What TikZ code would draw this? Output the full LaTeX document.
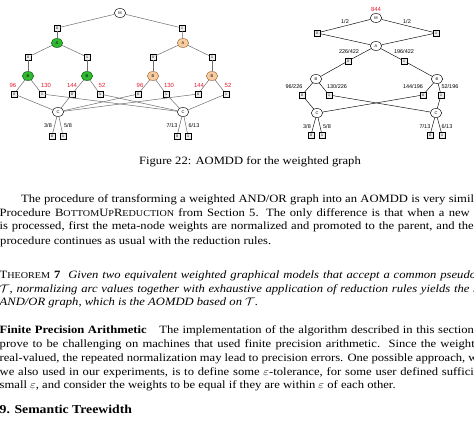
\documentclass[tikz,border=0pt]{standalone}
\usepackage{fontspec}
\setmainfont{Liberation Serif}
\newfontfamily\diagfont{Liberation Sans}
\usetikzlibrary{shapes.geometric}
\definecolor{ngreen}{RGB}{50,185,50}
\definecolor{norange}{RGB}{248,204,160}
\definecolor{lred}{RGB}{230,30,50}
\definecolor{egray}{RGB}{110,110,110}
\newcommand{\fsc}[1]{{\fontsize{9}{9}\selectfont #1}}
\newcommand{\jline}[2]{\scalebox{1.13}[1]{\hbox to #1bp{#2}}}
\newcommand{\nline}[1]{\scalebox{1.13}[1]{#1}}
\begin{document}
\begin{tikzpicture}[x=1bp,y=-1bp,
  onode/.style={ellipse, draw=black, line width=0.45bp, fill=white, minimum width=11.5bp, minimum height=9bp, inner sep=0pt, font=\diagfont\fontsize{4}{4}\selectfont},
  gnode/.style={onode, fill=ngreen, draw=green!35!black},
  pnode/.style={onode, fill=norange, draw=brown!80!black},
  abox/.style={rectangle, draw=black, line width=0.35bp, fill=gray!15, minimum width=5.5bp, minimum height=6bp, inner sep=0pt, font=\diagfont\fontsize{3.5}{3.5}\selectfont},
  ledge/.style={draw=egray, line width=0.5bp},
  redge/.style={draw=black, line width=0.45bp},
  wlab/.style={font=\diagfont\fontsize{6}{6}\selectfont, text=lred, inner sep=0pt},
  blab/.style={font=\diagfont\fontsize{5.5}{6}\selectfont, inner sep=0pt},
  txt/.style={anchor=base west, inner sep=0pt, font=\fontsize{11.2}{14}\selectfont}]
\useasboundingbox (0,0) rectangle (474,441);
\clip (0,0) rectangle (474,441);
\fill[white] (0,0) rectangle (474,441);
% ---------- left diagram ----------
\node[onode] (LM) at (120,13) {M};
\node[abox] (L0) at (57,28) {0};
\node[abox] (L1) at (182,28) {1};
\node[gnode] (LAg) at (57,43) {A};
\node[pnode] (LAo) at (183,43) {A};
\node[abox] (Lg0) at (28,57) {0};
\node[abox] (Lg1) at (87,57) {1};
\node[abox] (Lo0) at (153,57) {0};
\node[abox] (Lo1) at (212,57) {1};
\node[gnode] (LBg0) at (28,76) {B};
\node[gnode] (LBg1) at (87,76) {B};
\node[pnode] (LBo0) at (153,76) {B};
\node[pnode] (LBo1) at (212,76) {B};
\node[abox] (Lb1) at (14,94) {0};
\node[abox] (Lb2) at (42,94) {1};
\node[abox] (Lb3) at (72,94) {0};
\node[abox] (Lb4) at (100,94) {1};
\node[abox] (Lb5) at (138,94) {0};
\node[abox] (Lb6) at (166,94) {1};
\node[abox] (Lb7) at (198,94) {0};
\node[abox] (Lb8) at (226,94) {1};
\node[onode] (LC0) at (58,112) {C};
\node[onode] (LC1) at (183,112) {C};
\node[abox] (Ll1) at (52,136) {0};
\node[abox] (Ll2) at (63,136) {1};
\node[abox] (Ll3) at (177,136) {0};
\node[abox] (Ll4) at (188,136) {1};
\draw[ledge] (LM) -- (L0);
\draw[ledge] (LM) -- (L1);
\draw[ledge] (L0) -- (LAg);
\draw[ledge] (L1) -- (LAo);
\draw[ledge] (LAg) -- (Lg0);
\draw[ledge] (LAg) -- (Lg1);
\draw[ledge] (LAo) -- (Lo0);
\draw[ledge] (LAo) -- (Lo1);
\draw[ledge] (Lg0) -- (LBg0);
\draw[ledge] (Lg1) -- (LBg1);
\draw[ledge] (Lo0) -- (LBo0);
\draw[ledge] (Lo1) -- (LBo1);
\draw[ledge] (LBg0) -- (Lb1);
\draw[ledge] (LBg0) -- (Lb2);
\draw[ledge] (LBg1) -- (Lb3);
\draw[ledge] (LBg1) -- (Lb4);
\draw[ledge] (LBo0) -- (Lb5);
\draw[ledge] (LBo0) -- (Lb6);
\draw[ledge] (LBo1) -- (Lb7);
\draw[ledge] (LBo1) -- (Lb8);
\draw[ledge] (Lb1) -- (LC0);
\draw[ledge] (Lb3) -- (LC0);
\draw[ledge] (Lb5) -- (LC0);
\draw[ledge] (Lb7) -- (LC0);
\draw[ledge] (Lb2) -- (LC1);
\draw[ledge] (Lb4) -- (LC1);
\draw[ledge] (Lb6) -- (LC1);
\draw[ledge] (Lb8) -- (LC1);
\draw[ledge] (LC0) -- (Ll1);
\draw[ledge] (LC0) -- (Ll2);
\draw[ledge] (LC1) -- (Ll3);
\draw[ledge] (LC1) -- (Ll4);
\node[wlab] (w1) at (13,85) {96};
\node[wlab] (w2) at (46,85) {130};
\node[wlab] (w3) at (72,85) {144};
\node[wlab] (w4) at (102,85) {52};
\node[wlab] (w5) at (140,85) {96};
\node[wlab] (w6) at (169,85) {130};
\node[wlab] (w7) at (199,85) {144};
\node[wlab] (w8) at (228,85) {52};
\node[blab] (c1) at (48,126) {3/8};
\node[blab] (c2) at (68,126) {5/8};
\node[blab] (c3) at (172,126) {7/13};
\node[blab] (c4) at (194,126) {6/13};
% ---------- right diagram ----------
\node[onode] (RM) at (376,18) {M};
\node[abox] (R0) at (317,33) {0};
\node[abox] (R1) at (436,33) {1};
\node[onode] (RA) at (376,46) {A};
\node[abox] (Ra0) at (348,61) {0};
\node[abox] (Ra1) at (404,61) {1};
\node[onode] (RB0) at (316,79) {B};
\node[onode] (RB1) at (437,79) {B};
\node[abox] (Rb1) at (302,95) {0};
\node[abox] (Rb2) at (329,95) {1};
\node[abox] (Rb3) at (423,95) {0};
\node[abox] (Rb4) at (441,95) {1};
\node[onode] (RC0) at (317,113) {C};
\node[onode] (RC1) at (436,113) {C};
\node[abox] (Rl1) at (311,135) {0};
\node[abox] (Rl2) at (322,135) {1};
\node[abox] (Rl3) at (430,135) {0};
\node[abox] (Rl4) at (442,135) {1};
\draw[redge] (RM) -- (R0);
\draw[redge] (RM) -- (R1);
\draw[redge] (R0) -- (RA);
\draw[redge] (R1) -- (RA);
\draw[redge] (RA) -- (Ra0);
\draw[redge] (RA) -- (Ra1);
\draw[redge] (Ra0) -- (RB0);
\draw[redge] (Ra1) -- (RB1);
\draw[redge] (RB0) -- (Rb1);
\draw[redge] (RB0) -- (Rb2);
\draw[redge] (RB1) -- (Rb3);
\draw[redge] (RB1) -- (Rb4);
\draw[redge] (Rb1) -- (RC0);
\draw[redge] (Rb3) -- (RC0);
\draw[redge] (Rb2) -- (RC1);
\draw[redge] (Rb4) -- (RC1);
\draw[redge] (RC0) -- (Rl1);
\draw[redge] (RC0) -- (Rl2);
\draw[redge] (RC1) -- (Rl3);
\draw[redge] (RC1) -- (Rl4);
\node[wlab] (r844) at (376,9) {844};
\node[blab] (rh1) at (345,22) {1/2};
\node[blab] (rh2) at (407,22) {1/2};
\node[blab] (ra1) at (349,52) {226/422};
\node[blab] (ra2) at (404,52) {196/422};
\node[blab] (rb1) at (294,87) {96/226};
\node[blab] (rb2) at (337,87) {130/226};
\node[blab] (rb3) at (413,87) {144/196};
\node[blab] (rb4) at (450,87) {52/196};
\node[blab] (rc1) at (307,127) {3/8};
\node[blab] (rc2) at (327,127) {5/8};
\node[blab] (rc3) at (425,127) {7/13};
\node[blab] (rc4) at (447,127) {6/13};
% ---------- text ----------
\node[txt, anchor=base] (cap) at (250,165) {\nline{Figure 22: AOMDD for the weighted graph}};
\node[txt] (p1) at (21,203) {\jline{421}{The procedure of transforming a weighted AND/OR graph into an AOMDD is very similar to}};
\node[txt] (p2) at (-0.5,217) {\jline{442}{Procedure B\fsc{OTTOM}U\fsc{P}R\fsc{EDUCTION} from Section 5. The only difference is that when a new layer}};
\node[txt] (p3) at (-0.5,230) {\jline{442}{is processed, first the meta-node weights are normalized and promoted to the parent, and then the}};
\node[txt] (p4) at (0,244) {\nline{procedure continues as usual with the reduction rules.}};
\node[txt] (t1) at (-0.5,278) {\jline{442}{T\fsc{HEOREM} \textbf{7}\ \ \itshape Given two equivalent weighted graphical models that accept a common pseudo tree}};
\node[txt] (t2) at (-0.5,292) {\jline{442}{\itshape $\mathcal{T}$, normalizing arc values together with exhaustive application of reduction rules yields the same}};
\node[txt] (t3) at (-0.5,305) {\nline{\textit{AND/OR graph, which is the AOMDD based on $\mathcal{T}$.}}};
\node[txt] (f1) at (-0.5,333) {\jline{442}{\textbf{Finite Precision Arithmetic}\quad The implementation of the algorithm described in this section may}};
\node[txt] (f2) at (-0.5,347) {\jline{442}{prove to be challenging on machines that used finite precision arithmetic.\ \ Since the weights are}};
\node[txt] (f3) at (-0.5,361) {\jline{442}{real-valued, the repeated normalization may lead to precision errors. One possible approach, which}};
\node[txt] (f4) at (-0.5,375) {\jline{442}{we also used in our experiments, is to define some $\varepsilon$-tolerance, for some user defined sufficiently}};
\node[txt] (f5) at (-0.5,388) {\nline{small $\varepsilon$, and consider the weights to be equal if they are within $\varepsilon$ of each other.}};
\node[txt, font=\fontsize{12.2}{16}\selectfont\bfseries] (h9) at (-0.5,413) {\nline{9. Semantic Treewidth}};
\end{tikzpicture}
\end{document}
